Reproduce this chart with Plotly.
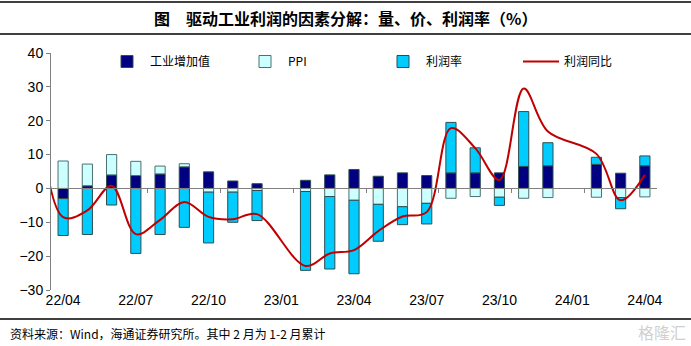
import plotly.graph_objects as go

# ---------------- data ----------------
months = ['22/03', '22/04', '22/05', '22/06', '22/07', '22/08', '22/09', '22/10', '22/11', '22/12',
          '23/01', '23/02', '23/03', '23/04', '23/05', '23/06', '23/07', '23/08', '23/09', '23/10',
          '23/11', '23/12', '24/01', '24/02', '24/03', '24/04']

ind_va = [None, -3.0, 0.8, 4.0, 3.8, 4.3, 6.4, 4.9, 2.2, 1.4,
          None, 2.4, 4.0, 5.6, 3.6, 4.6, 3.8, 4.6, 4.6, 4.6,
          6.5, 6.7, None, 7.1, 4.5, 6.7]

ppi = [None, 8.1, 6.4, 6.0, 4.2, 2.3, 0.9, -1.1, -1.1, -0.6,
       None, -0.9, -2.4, -3.5, -4.7, -5.4, -4.4, -2.9, -2.4, -2.6,
       -2.9, -2.7, None, -2.6, -2.7, -2.5]

margin = [None, -10.9, -13.6, -4.9, -19.2, -13.6, -11.5, -15.0, -8.9, -8.9,
          None, -23.3, -21.4, -21.7, -10.9, -5.3, -6.1, 14.9, 7.4, -2.4,
          16.2, 6.8, None, 2.1, -3.3, 2.9]

profit_yoy = [24.0, -8.5, -6.5, 0.8, -13.5, -9.3, -4.0, -8.4, -9.1, -7.6,
              None, -22.9, -19.2, -18.2, -12.6, -8.3, -7.0, 17.8, 11.9, 2.5,
              29.5, 16.8, None, 10.2, -3.5, 4.0]

tick_labels = ['22/04', '22/07', '22/10', '23/01', '23/04', '23/07', '23/10', '24/01', '24/04']

series_names = ['工业增加值', 'PPI', '利润率', '利润同比']
title_text = '图　驱动工业利润的因素分解：量、价、利润率（%）'
source_text = '资料来源：Wind，海通证券研究所。其中 2 月为 1-2 月累计'

# ---------------- build ----------------
xpos = list(range(len(months)))
label_pos = [months.index(m) for m in tick_labels]
boundary_pos = [p + 0.5 for p in label_pos[1:-1]]

line_x = [x for x, v in zip(xpos, profit_yoy) if v is not None]
line_y = [v for v in profit_yoy if v is not None]

CJK = 'Noto Sans CJK SC, sans-serif'
outline = dict(color='#2f4f4f', width=1)

fig = go.Figure()
fig.add_trace(go.Bar(x=xpos, y=ind_va, name=series_names[0], marker=dict(color='#000080', line=outline), width=0.42))
fig.add_trace(go.Bar(x=xpos, y=ppi, name=series_names[1], marker=dict(color='#CCFFFF', line=dict(color='#4a7070', width=1)), width=0.42))
fig.add_trace(go.Bar(x=xpos, y=margin, name=series_names[2], marker=dict(color='#00CCFF', line=outline), width=0.42))
fig.add_trace(go.Scatter(x=line_x, y=line_y, name=series_names[3], mode='lines', xaxis='x2',
                         line=dict(color='#C00000', width=2, shape='spline', smoothing=1.0)))

W, H = 691, 346
L, R, T, B = 51, 657, 53, 290
pw, ph = R - L, B - T


def px_x(p):
    return (p - L) / pw


def px_y(p):
    return (B - p) / ph


xr = [0.5, len(months) - 0.5]
ymin, ymax = -30, 40

fig.update_layout(
    width=W, height=H,
    margin=dict(l=L, r=W - R, t=T, b=H - B),
    paper_bgcolor='white', plot_bgcolor='white',
    barmode='relative',
    showlegend=True,
    legend=dict(orientation='h', x=px_x(104), y=px_y(47), xanchor='left', yanchor='top',
                font=dict(family=CJK, size=12, color='#000'),
                entrywidth=87, entrywidthmode='pixels', bgcolor='rgba(0,0,0,0)',
                itemwidth=36, traceorder='normal'),
    xaxis=dict(range=xr, anchor='free', position=(0 - ymin) / (ymax - ymin),
               showline=True, linecolor='#808080', linewidth=1,
               ticks='outside', ticklen=4, tickcolor='#808080',
               tickvals=boundary_pos, showticklabels=False,
               showgrid=False, zeroline=False, fixedrange=True),
    xaxis2=dict(range=xr, overlaying='x', anchor='y', side='bottom',
                showline=False, ticks='', tickvals=label_pos, ticktext=tick_labels,
                tickfont=dict(family='Liberation Sans Narrow, Arial Narrow, Liberation Sans', size=14, color='#000'),
                showgrid=False, zeroline=False),
    yaxis=dict(range=[ymin, ymax], dtick=10, showline=True, linecolor='#808080', linewidth=1,
               ticks='outside', ticklen=4, tickcolor='#808080',
               tickfont=dict(family='Liberation Sans, Arial', size=14, color='#000'),
               showgrid=False, zeroline=False),
    font=dict(family=CJK, color='#000'),
)

fig.add_annotation(text=title_text, xref='paper', yref='paper', x=px_x(W / 2), y=px_y(18),
                   xanchor='center', yanchor='middle', showarrow=False,
                   font=dict(family=CJK, size=16, color='#000', weight='bold'))
fig.add_annotation(text=source_text, xref='paper', yref='paper', x=px_x(8), y=px_y(333),
                   xanchor='left', yanchor='middle', showarrow=False,
                   font=dict(family=CJK, size=12, color='#000'))
fig.add_annotation(text='格隆汇', xref='paper', yref='paper', x=px_x(688), y=px_y(332),
                   xanchor='right', yanchor='middle', showarrow=False,
                   font=dict(family=CJK, size=16, color='#d0d0d0'))

for yline, wline in [(2, 1.5), (34, 1.5), (319, 1.5)]:
    fig.add_shape(type='line', xref='paper', yref='paper', x0=px_x(0), x1=px_x(W),
                  y0=px_y(yline), y1=px_y(yline), line=dict(color='#000', width=wline))

fig.write_html('out.html')
